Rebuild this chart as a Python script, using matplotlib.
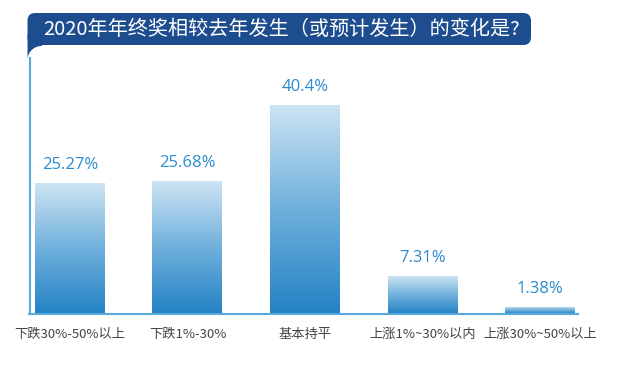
import numpy as np
import matplotlib
matplotlib.use('Agg')
import matplotlib.pyplot as plt
from matplotlib.colors import LinearSegmentedColormap
from matplotlib.patches import FancyBboxPatch, Polygon
from matplotlib.lines import Line2D

plt.rcParams['font.family'] = ['Noto Sans CJK SC', 'DejaVu Sans']

title = '2020年年终奖相较去年发生（或预计发生）的变化是?'
categories = ['下跌30%-50%以上', '下跌1%-30%', '基本持平', '上涨1%~30%以内', '上涨30%~50%以上']
values = [25.27, 25.68, 40.4, 7.31, 1.38]
value_labels = ['25.27%', '25.68%', '40.4%', '7.31%', '1.38%']

W, H = 640, 370
fig = plt.figure(figsize=(6.4, 3.7), dpi=100)

# axes in pixel coordinates
ax_left, ax_right = 29, 578
ax_bottom, ax_top = 314, 81
ax = fig.add_axes([ax_left / W, 1 - ax_bottom / H, (ax_right - ax_left) / W, (ax_bottom - ax_top) / H])

x = np.arange(len(categories))
bars = ax.bar(x, values, width=0.595, color='none', edgecolor='none')

cmap = LinearSegmentedColormap.from_list('bluegrad', ['#2382c4', '#6fb0dc', '#cde4f3'])
grad = np.linspace(0, 1, 256).reshape(-1, 1)
for b in bars:
    x0, y0 = b.get_x(), b.get_y()
    w, h = b.get_width(), b.get_height()
    im = ax.imshow(grad, cmap=cmap, aspect='auto', origin='lower',
                   extent=[x0, x0 + w, y0, y0 + h], zorder=2)
    im.set_clip_path(b)

for xi, v, lab in zip(x, values, value_labels):
    ax.annotate(lab, (xi, v), xytext=(0, 13), textcoords='offset points',
                ha='center', va='center', fontsize=12, color='#2a8bcc',
                family=['Open Sans', 'DejaVu Sans'])

ax.set_xlim(-0.347, 4.32)
ax.set_ylim(0, 45)
ax.set_xticks(x)
ax.set_xticklabels(categories, fontsize=9.5, color='#444444')
ax.tick_params(axis='x', length=0, pad=10)
ax.set_yticks([])
for s in ['top', 'right', 'left']:
    ax.spines[s].set_visible(False)
ax.spines['bottom'].set_color('#5aa9dc')
ax.spines['bottom'].set_linewidth(1.5)

# left vertical line from title to baseline
fig.add_artist(Line2D([29.5 / W, 29.5 / W], [1 - 58 / H, 1 - 314 / H],
                      color='#5aa9dc', lw=1.5, transform=fig.transFigure))

# title box
navy = '#1d4c8f'
fig.add_artist(FancyBboxPatch((27.5 / W, 1 - 45 / H), (531 - 27.5) / W, (45 - 13) / H,
                              boxstyle='round,pad=0,rounding_size=0.012',
                              transform=fig.transFigure, fc=navy, ec='none',
                              mutation_aspect=W / H))
# bubble tail at bottom-left
t = np.linspace(0, 1, 20)
tail_x = 27.5 + 14 * (1 - np.cos(t * np.pi / 2))
tail_y = 60 - 14 * np.sin(t * np.pi / 2)
pts = [(27.5, 35), (42, 35), (42, 46)] + list(zip(tail_x[::-1], tail_y[::-1]))
pts = [(px / W, 1 - py / H) for px, py in pts]
fig.add_artist(Polygon(pts, closed=True, fc=navy, ec='none', transform=fig.transFigure))

fig.text(43 / W, 1 - 29 / H, title, color='white', fontsize=14.5, va='center', ha='left')

fig.savefig('out.png', dpi=100, facecolor='white')
